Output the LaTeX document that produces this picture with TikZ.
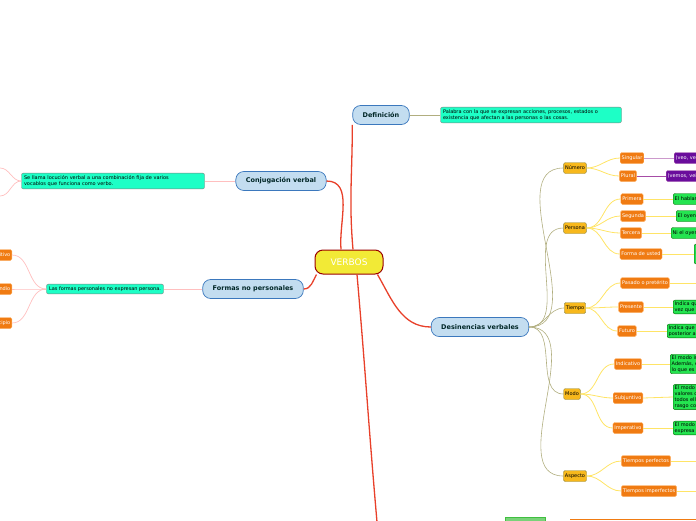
\documentclass[tikz,border=0pt]{standalone}
\usepackage{fontspec}
\setmainfont{DejaVu Sans}
\definecolor{aq}{HTML}{1DFFC6}
\definecolor{lb}{HTML}{C3DDF0}
\definecolor{bb}{HTML}{3B78BD}
\definecolor{yr}{HTML}{F2EA36}
\definecolor{yl}{HTML}{F7B81C}
\definecolor{og}{HTML}{F07B12}
\definecolor{gr}{HTML}{24E450}
\definecolor{pu}{HTML}{6A0D9C}
\definecolor{rd}{HTML}{E8402A}
\begin{document}
\begin{tikzpicture}[x=1pt,y=-1pt,
  every node/.style={font=\fontsize{5}{5.8}\selectfont, inner sep=1.5pt},
  root/.style={draw=red!60!black, line width=1pt, fill=yr, rounded corners=8pt, minimum width=68pt, minimum height=24pt, text=white, font=\fontsize{9}{10}\selectfont},
  main/.style={draw=bb, line width=0.7pt, fill=lb, rounded corners=8pt, minimum height=19pt, text=black!70!teal, font=\fontsize{6.5}{7}\selectfont\bfseries, inner xsep=10pt},
  aqua/.style={draw=gray, fill=aq, rounded corners=2pt, align=left, text=black, inner sep=2.5pt},
  yel/.style={draw=olive!50!gray, fill=yl, rounded corners=1.5pt, minimum height=11pt, text=black},
  org/.style={draw=orange!60, fill=og, rounded corners=1.5pt, minimum height=11pt, text=white},
  pur/.style={draw=violet!60, fill=pu, rounded corners=1.5pt, minimum height=11pt, text=white, anchor=west},
  grn/.style={draw=green!40!black, fill=gr, rounded corners=2pt, text=black, anchor=west, align=left},
  red/.style={draw=rd, line width=1.3pt},
  olv/.style={draw=olive!40!gray!70, line width=0.6pt},
  ylw/.style={draw=orange!35!yellow!60, line width=0.8pt},
  pnk/.style={draw=red!25, line width=0.7pt}]
\useasboundingbox (0,0) rectangle (696,520);
\clip (0,0) rectangle (696,520);
\node[root] (v) at (349,262) {VERBOS};
\node[main] (def) at (381,115) {Definición};
\node[aqua, text width=176pt] (deft) at (531,115) {Palabra con la que se expresan acciones, procesos, estados o\\existencia que afectan a las personas o las cosas.};
\node[main] (conj) at (281,181) {Conjugación verbal};
\node[aqua, text width=178pt] (conjt) at (113,181) {Se llama locución verbal a una combinación fija de varios\\vocablos que funciona como verbo.};
\node[main] (fnp) at (253,289) {Formas no personales};
\node[aqua] (fnpt) at (105,289) {Las formas personales no expresan persona.};
\node[org, anchor=east] (inf) at (12,255) {Infinitivo};
\node[org, anchor=east] (ger) at (12,289) {Gerundio};
\node[org, anchor=east] (par) at (12,323) {Participio};
\coordinate (c1) at (0,168);
\coordinate (c2) at (0,196);
\node[main] (des) at (480,327) {Desinencias verbales};
\coordinate (bot) at (377,522);
\node[draw=green!50!gray, fill=green!50!gray!70, minimum width=40pt, minimum height=8pt, anchor=north] (bg) at (525,517) {};
\coordinate (ob) at (696,519);
\coordinate (oa) at (570,519);
\draw[red] (v.north) ++(4,0) to[out=95,in=-90] (def.south west);
\draw[red] (v.north) ++(-8,0) to[out=95,in=0] (conj.east);
\draw[red] (v.south west) ++(2,0) to[out=-120,in=0] (fnp.east);
\draw[red] (v.south east) ++(-6,0) to[out=-60,in=180] (des.west);
\draw[red] (v.south) ++(8,0) to[out=-85,in=95] (bot);
\draw[olv] (def.east) -- (deft.west);
\draw[pnk] (conj.west) -- (conjt.east);
\draw[pnk] (conjt.west) to[out=180,in=0] (c1);
\draw[pnk] (conjt.west) to[out=180,in=0] (c2);
\draw[pnk] (fnp.west) -- (fnpt.east);
\foreach \n in {inf,ger,par} \draw[pnk] (fnpt.west) to[out=180,in=0] (\n.east);
\draw[draw=og, line width=0.8pt] (oa) -- (ob);
\node[yel] (num) at (575,168) {Número};
\node[yel] (per) at (575,228) {Persona};
\node[yel] (tie) at (575,308) {Tiempo};
\node[yel] (mod) at (572,394) {Modo};
\node[yel] (asp) at (575,476) {Aspecto};
\foreach \n in {num,per,tie,mod,asp} \draw[olv] (des.east) to[out=0,in=180] (\n.west);
\node[org] (sin) at (632,158) {Singular};
\node[org] (plu) at (628,176) {Plural};
\node[org] (pri) at (632,199) {Primera};
\node[org] (seg) at (633,216) {Segunda};
\node[org] (ter) at (631,233) {Tercera};
\node[org] (fu) at (641,254) {Forma de usted};
\node[org] (pas) at (645,283) {Pasado o pretérito};
\node[org] (pre) at (631,307) {Presente};
\node[org] (fut) at (627,331) {Futuro};
\node[org] (ind) at (628,364) {Indicativo};
\node[org] (sub) at (628,398) {Subjuntivo};
\node[org] (imp) at (628,428) {Imperativo};
\node[org] (tp) at (646,461) {Tiempos perfectos};
\node[org] (ti) at (649,491) {Tiempos imperfectos};
\foreach \a/\b in {num/sin,num/plu,per/pri,per/seg,per/ter,per/fu,tie/pas,tie/pre,tie/fut,mod/ind,mod/sub,mod/imp,asp/tp,asp/ti}
  \draw[ylw] (\a.east) to[out=0,in=180] (\b.west);
\node[pur] (sv) at (674,158) {(veo, ves, ve)};
\node[pur] (pv) at (666,176) {(vemos, veis, ven)};
\draw[violet!40, line width=0.8pt] (sin.east) -- (sv.west);
\draw[violet!70, line width=0.8pt] (plu.east) -- (pv.west);
\node[grn, minimum height=11pt] (g1) at (673,199) {El hablante};
\node[grn, minimum height=11pt] (g2) at (676,216) {El oyente};
\node[grn, minimum height=11pt] (g3) at (671,233) {Ni el oyente ni el hablante};
\node[grn, minimum height=20pt] (g4) at (694,254) {Usted};
\node[grn] (g6) at (673,307) {Indica que la acción\\vez que se habla};
\node[grn] (g7) at (667,331) {Indica que la acción\\posterior al momento};
\node[grn] (g8) at (670,364) {El modo indicativo\\Además, expresa\\lo que es real};
\node[grn] (g9) at (673,397) {El modo subjuntivo\\valores de deseo\\todos ellos\\rasgo común};
\node[grn] (g10) at (673,428) {El modo imperativo\\expresa órdenes};
\coordinate (e1) at (696,283);
\coordinate (e2) at (696,461);
\coordinate (e3) at (696,491);
\foreach \a/\b in {pri/g1,seg/g2,ter/g3,fu/g4,pre/g6,fut/g7,ind/g8,sub/g9,imp/g10}
  \draw[ylw] (\a.east) -- (\b.west);
\draw[ylw] (pas.east) -- (e1);
\draw[ylw] (tp.east) -- (e2);
\draw[ylw] (ti.east) -- (e3);
\end{tikzpicture}
\end{document}
